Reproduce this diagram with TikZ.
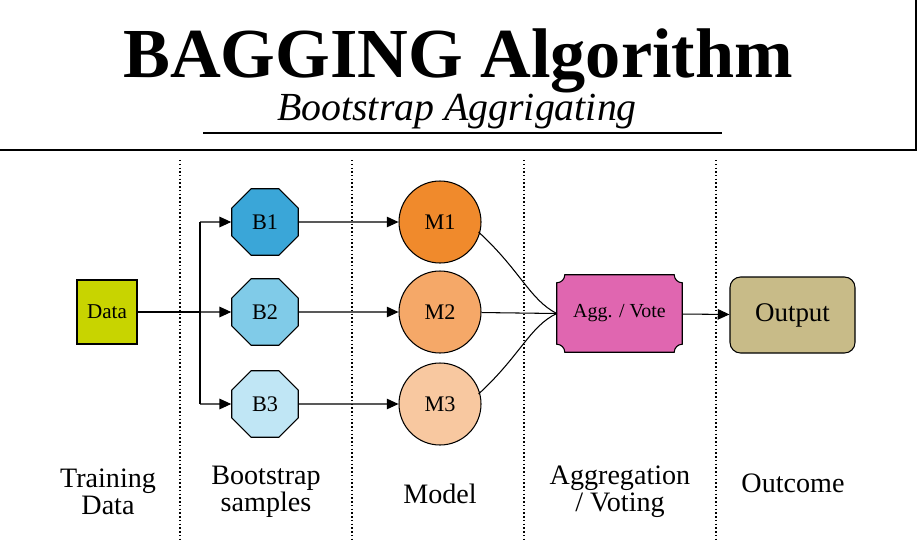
\documentclass[tikz,border=0pt]{standalone}
\usepackage{fontspec}
\setmainfont{Liberation Serif}
\usetikzlibrary{shapes.geometric,arrows.meta}
\definecolor{cdata}{HTML}{C8D400}
\definecolor{cba}{HTML}{3AA6D8}
\definecolor{cbb}{HTML}{80CBE8}
\definecolor{cbc}{HTML}{C0E6F5}
\definecolor{cma}{HTML}{F08A2C}
\definecolor{cmb}{HTML}{F5A868}
\definecolor{cmc}{HTML}{F8C8A0}
\definecolor{cagg}{HTML}{E066B0}
\definecolor{cout}{HTML}{C8BB88}
\tikzset{
  oct/.style={regular polygon,regular polygon sides=8,shape border rotate=0,draw,line width=0.9pt,minimum size=72*0.03cm,inner sep=0pt,font=\fontsize{19}{19}\selectfont},
  mod/.style={circle,draw,line width=0.9pt,minimum size=82*0.03cm,inner sep=0pt,font=\fontsize{19}{19}\selectfont},
  arr/.style={-{Triangle[length=10pt,width=9pt]},line width=0.9pt},
  caplabel/.style={align=center,font=\fontsize{24}{23}\selectfont},
  sep/.style={dotted,line width=1.2pt}
}
\begin{document}
\begin{tikzpicture}[x=0.03cm,y=-0.03cm]
\useasboundingbox (0,0) rectangle (921,553);
\node (title) at (458,61) {\fontsize{60}{60}\selectfont\bfseries BAGGING Algorithm};
\node (sub) at (457,112) {\fontsize{34}{34}\selectfont\itshape Bootstrap Aggrigating};
\draw[line width=1pt] (203,133) -- (722,133);
\draw[line width=2.2pt] (0,150) -- (916,150) -- (916,0);
\foreach \x in {180,352,524,716} \draw[sep] (\x,160) -- (\x,540);
\node[draw,fill=cdata,line width=0.9pt,minimum width=60*0.03cm,minimum height=64*0.03cm,inner sep=1pt,font=\fontsize{18}{18}\selectfont] (data) at (107,312) {Data};
\node[oct,fill=cba] (b1) at (265,222) {B1};
\node[oct,fill=cbb] (b2) at (265,312) {B2};
\node[oct,fill=cbc] (b3) at (265,404) {B3};
\node[mod,fill=cma] (m1) at (440,222) {M1};
\node[mod,fill=cmb] (m2) at (440,312) {M2};
\node[mod,fill=cmc] (m3) at (440,404) {M3};
\node[minimum width=125*0.03cm,minimum height=77*0.03cm] (agg) at (619.5,313.5) {};
\fill[cagg,draw=black,line width=0.9pt]
  ([xshift=8*0.03cm]agg.north west) -- ([xshift=-8*0.03cm]agg.north east)
  arc[start angle=180,end angle=270,radius=8*0.03cm]
  -- ([yshift=8*0.03cm]agg.south east)
  arc[start angle=90,end angle=180,radius=8*0.03cm]
  -- ([xshift=8*0.03cm]agg.south west)
  arc[start angle=0,end angle=90,radius=8*0.03cm]
  -- ([yshift=-8*0.03cm]agg.north west)
  arc[start angle=270,end angle=360,radius=8*0.03cm] -- cycle;
\node[font=\fontsize{17}{17}\selectfont] (aggtext) at (agg) {Agg. / Vote};
\node[draw,fill=cout,rounded corners=9pt,line width=0.9pt,minimum width=125*0.03cm,minimum height=76*0.03cm,font=\fontsize{23}{23}\selectfont] (out) at (792.5,315) {Output};
\coordinate (br) at (200,312);
\draw[line width=0.9pt] (data.east) -- (br);
\draw[line width=0.9pt] (br |- b1) -- (br |- b3);
\draw[arr] (br |- b1) -- (b1);
\draw[arr] (br) -- (b2);
\draw[arr] (br |- b3) -- (b3);
\draw[arr] (b1) -- (m1);
\draw[arr] (b2) -- (m2);
\draw[arr] (b3) -- (m3);
\draw[line width=0.9pt] (m1.east) ++(-3,10) .. controls (520,270) and (530,300) .. (agg.west);
\draw[line width=0.9pt] (m2) -- (agg.west);
\draw[line width=0.9pt] (m3.east) ++(-3,-10) .. controls (520,356) and (530,326) .. (agg.west);
\draw[arr] (agg) -- (out);
\node[caplabel] (l1) at (108,492) {Training\\Data};
\node[caplabel] (l2) at (266,492) {Bootstrap\\samples};
\node[caplabel] (l3) at (440,494) {Model};
\node[caplabel] (l4) at (620,492) {Aggregation\\/ Voting};
\node[caplabel] (l5) at (793,483) {Outcome};
\end{tikzpicture}
\end{document}
